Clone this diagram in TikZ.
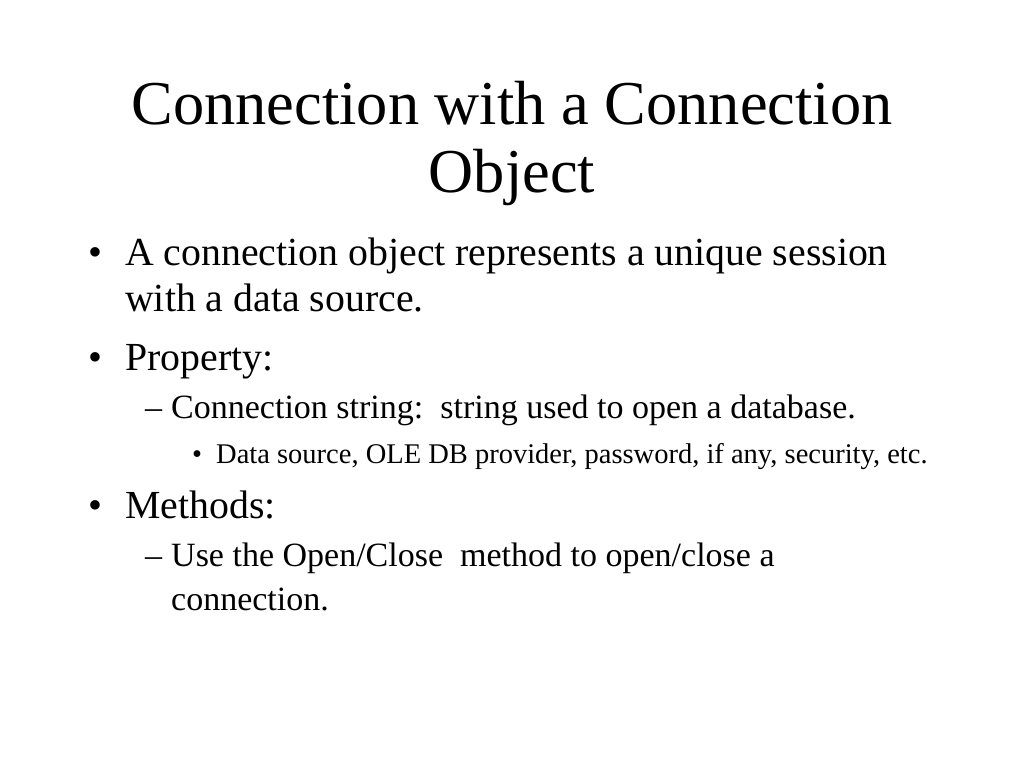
\documentclass[tikz,border=0pt]{standalone}
\usepackage{fontspec}
\setmainfont{Liberation Serif}
\begin{document}
\begin{tikzpicture}[x=1pt,y=-1pt,
  t/.style={anchor=base west,inner sep=0pt},
  l1/.style={t,font=\fontsize{39.8}{44}\selectfont},
  l2/.style={t,font=\fontsize{34}{38}\selectfont},
  l3/.style={t,font=\fontsize{28.5}{32}\selectfont}]
\useasboundingbox (0,0) rectangle (1024,768);
\node[anchor=base,inner sep=0pt,font=\fontsize{62.4}{70}\selectfont] (t1) at (512,124) {Connection with a Connection};
\node[anchor=base,inner sep=0pt,font=\fontsize{62.4}{70}\selectfont] (t2) at (512,192) {Object};
\node[l1] (b1) at (88,265) {•};
\node[l1] (a1) at (125,265) {A connection object represents a unique session};
\node[l1] (a2) at (125,311) {with a data source.};
\node[l1] (b2) at (88,370) {•};
\node[l1] (a3) at (125,370) {Property:};
\node[l2] (d1) at (145,418) {–};
\node[l2] (a4) at (171,418) {Connection string:\ \ string used to open a database.};
\node[l3] (b3) at (192,463) {•};
\node[l3] (a5) at (216,463) {Data source, OLE DB provider, password, if any, security, etc.};
\node[l1] (b4) at (88,518) {•};
\node[l1] (a6) at (125,518) {Methods:};
\node[l2] (d2) at (145,566) {–};
\node[l2] (a7) at (171,566) {Use the Open/Close\ \ method to open/close a};
\node[l2] (a8) at (171,610) {connection.};
\end{tikzpicture}
\end{document}
